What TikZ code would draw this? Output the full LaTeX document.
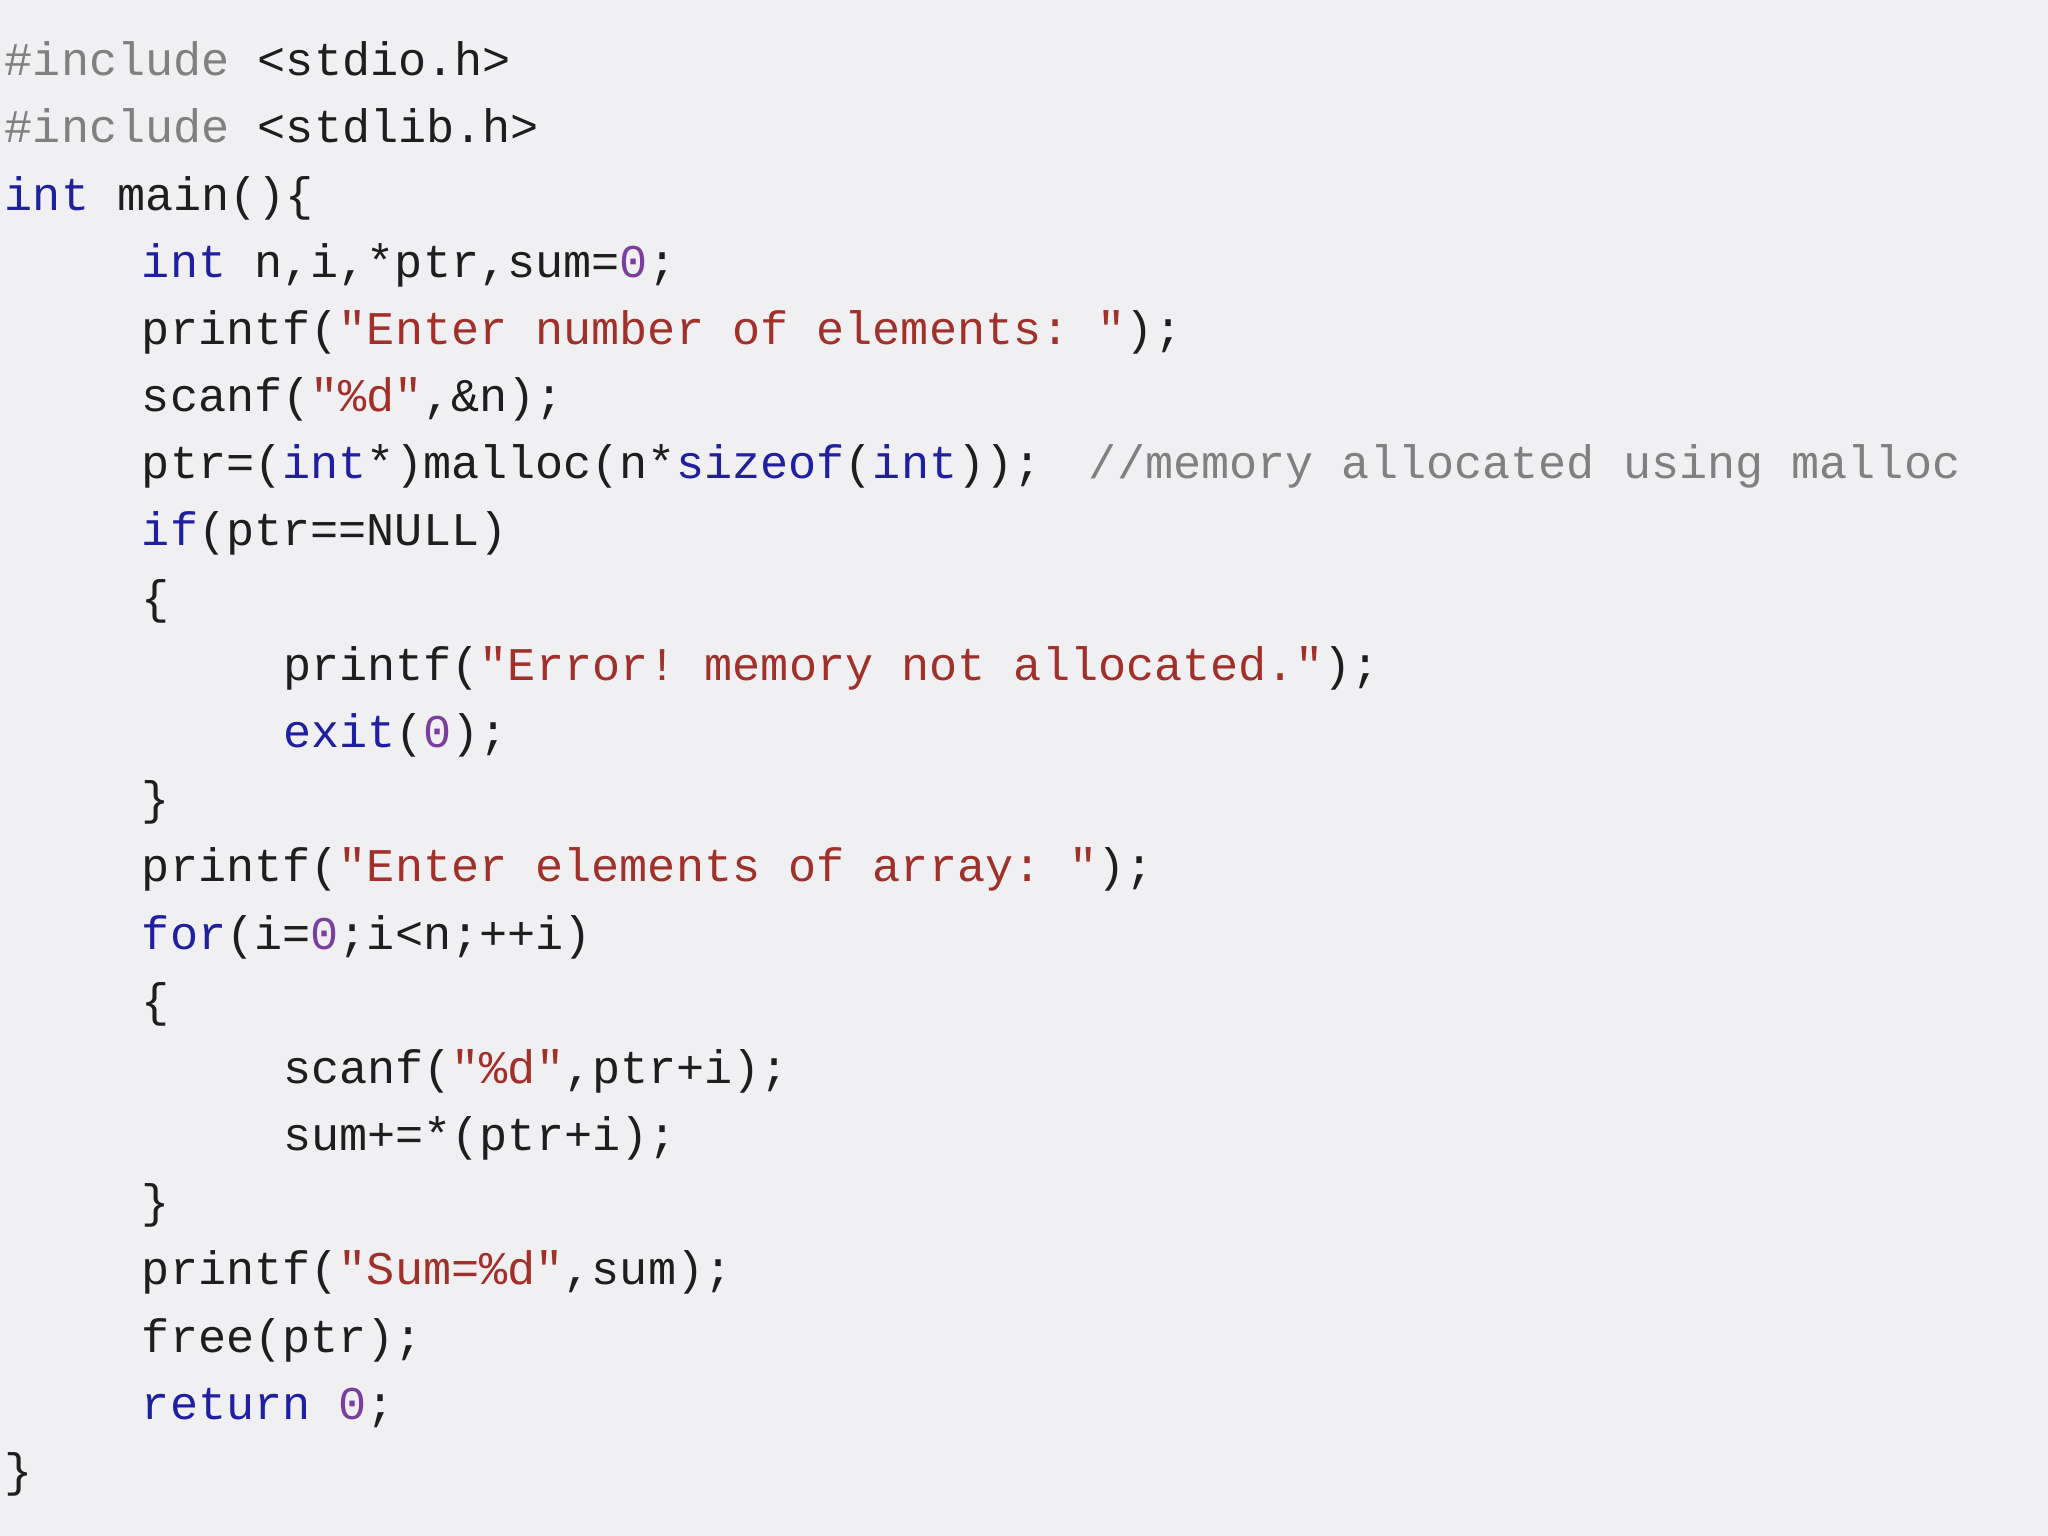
\documentclass[tikz,border=0pt]{standalone}
\usepackage{fontspec}
\setmonofont{Liberation Mono}
\definecolor{bg}{HTML}{F0F0F3}
\definecolor{kw}{HTML}{1F1FA0}
\definecolor{st}{HTML}{A0302A}
\definecolor{nm}{HTML}{7A3E9D}
\definecolor{cm}{HTML}{808080}
\definecolor{tx}{HTML}{1E1E1E}
\newcommand{\kw}[1]{\textcolor{kw}{#1}}
\newcommand{\st}[1]{\textcolor{st}{#1}}
\newcommand{\nm}[1]{\textcolor{nm}{#1}}
\newcommand{\cmt}[1]{\textcolor{cm}{#1}}
\tikzset{code/.style={anchor=base west,inner sep=0pt,text=tx,font=\ttfamily\fontsize{10.2}{12}\selectfont}}
\begin{document}
\begin{tikzpicture}[x=0.01cm,y=-0.01cm]
\fill[bg] (0,0) rectangle (1568,1176);
\useasboundingbox (0,0) rectangle (1568,1176);
\def\L{51.43}
\node[code] (l1) at (3,58) {\cmt{\#include} <stdio.h>};
\node[code] (l2) at (3,58+\L) {\cmt{\#include} <stdlib.h>};
\node[code] (l3) at (3,58+2*\L) {\kw{int} main()\{};
\node[code] (l4) at (108,58+3*\L) {\kw{int} n,i,*ptr,sum=\nm{0};};
\node[code] (l5) at (108,58+4*\L) {printf(\st{"Enter number of elements: "});};
\node[code] (l6) at (108,58+5*\L) {scanf(\st{"\%d"},\&n);};
\node[code] (l7) at (108,58+6*\L) {ptr=(\kw{int}*)malloc(n*\kw{sizeof}(\kw{int}));};
\node[code] (c7) at (833,58+6*\L) {\cmt{//memory allocated using malloc}};
\node[code] (l8) at (108,58+7*\L) {\kw{if}(ptr==NULL)};
\node[code] (l9) at (108,58+8*\L) {\{};
\node[code] (l10) at (216,58+9*\L) {printf(\st{"Error! memory not allocated."});};
\node[code] (l11) at (216,58+10*\L) {\kw{exit}(\nm{0});};
\node[code] (l12) at (108,58+11*\L) {\}};
\node[code] (l13) at (108,58+12*\L) {printf(\st{"Enter elements of array: "});};
\node[code] (l14) at (108,58+13*\L) {\kw{for}(i=\nm{0};i<n;++i)};
\node[code] (l15) at (108,58+14*\L) {\{};
\node[code] (l16) at (216,58+15*\L) {scanf(\st{"\%d"},ptr+i);};
\node[code] (l17) at (216,58+16*\L) {sum+=*(ptr+i);};
\node[code] (l18) at (108,58+17*\L) {\}};
\node[code] (l19) at (108,58+18*\L) {printf(\st{"Sum=\%d"},sum);};
\node[code] (l20) at (108,58+19*\L) {free(ptr);};
\node[code] (l21) at (108,58+20*\L) {\kw{return} \nm{0};};
\node[code] (l22) at (3,58+21*\L) {\}};
\end{tikzpicture}
\end{document}
